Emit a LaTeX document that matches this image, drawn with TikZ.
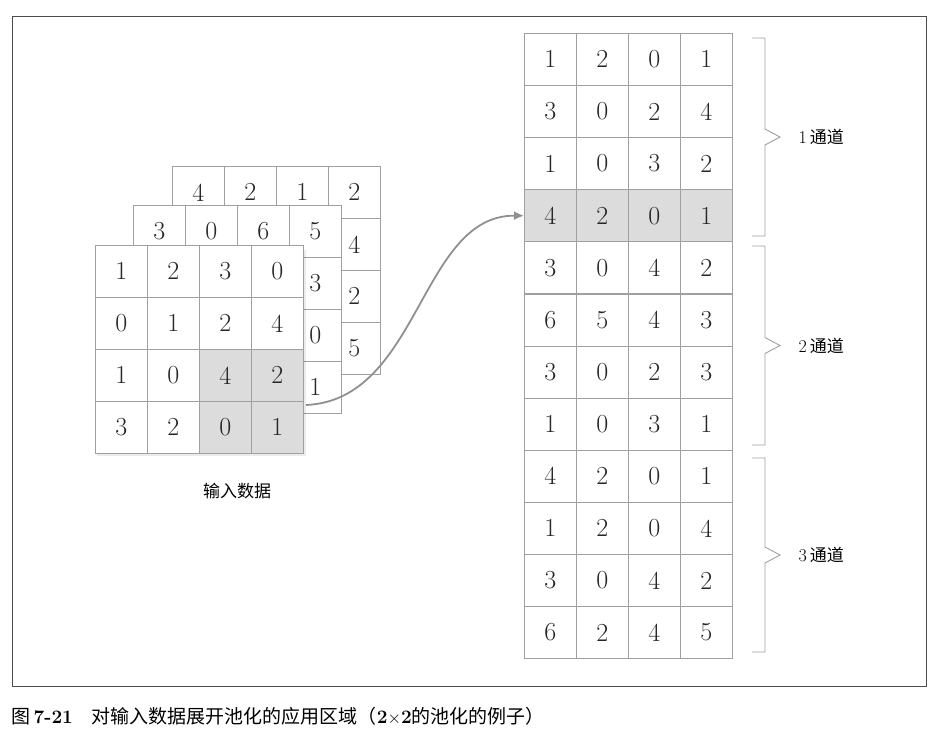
\documentclass[tikz,border=0pt]{standalone}
\usepackage{fontspec}
\newfontfamily\cjk{Noto Sans CJK SC}
\usetikzlibrary{calc,arrows.meta}
\definecolor{gridc}{HTML}{A0A0A0}
\definecolor{shade}{HTML}{DCDCDC}
\begin{document}
\begin{tikzpicture}[x=1pt,y=-1pt,
  cell/.style={draw=gridc,line width=0.8pt,fill=white,minimum width=52pt,minimum height=52pt,inner sep=0pt,font=\fontsize{26}{26}\selectfont,text=black!85,anchor=north west},
  hl/.style={fill=shade},
  lab/.style={font=\cjk\fontsize{17}{17}\selectfont},
  brk/.style={draw=gridc,line width=0.9pt}]
\useasboundingbox (0,0) rectangle (945,736);
\draw[line width=0.9pt,draw=black!70] (12,16) rectangle (926,686);
\def\drawmat#1#2#3#4{%
  \foreach \row [count=\r from 0] in {#4}{
    \foreach \v [count=\c from 0] in \row {
      \node[cell] (#1-\r-\c) at ($(#2,#3)+(\c*52,\r*52)$) {\v};
    }}}
\drawmat{b}{172}{166}{{4,2,1,2},{0,0,0,4},{0,0,0,2},{0,0,0,5}}
\drawmat{m}{133}{205}{{3,0,6,5},{0,0,0,3},{0,0,0,0},{0,0,0,1}}
\fill[black,opacity=0.08] (97,250) rectangle (306,456);
\drawmat{f}{95}{245}{{1,2,3,0},{0,1,2,4},{1,0,4,2},{3,2,0,1}}
\foreach \r/\c/\v in {2/2/4,2/3/2,3/2/0,3/3/1}
  \node[cell,hl] at (f-\r-\c.north west) {\v};
\node[lab] (in) at (237,491) {输入数据};
\foreach \row [count=\r from 0] in {{1,2,0,1},{3,0,2,4},{1,0,3,2},{4,2,0,1},{3,0,4,2},{6,5,4,3},{3,0,2,3},{1,0,3,1},{4,2,0,1},{1,2,0,4},{3,0,4,2},{6,2,4,5}}{
  \foreach \v [count=\c from 0] in \row {
    \ifnum\r=3
      \node[cell,hl] (r-\r-\c) at ($(524,33)+(\c*52,\r*52.1)$) {\v};
    \else
      \node[cell] (r-\r-\c) at ($(524,33)+(\c*52,\r*52.1)$) {\v};
    \fi
  }}
\coordinate (as) at (306,405);
\draw[gridc!90!black,line width=1.8pt,-{Latex[length=10pt,width=9pt]}]
  (as) .. controls (420,400) and (420,215) .. (r-3-0.west);
\foreach \a/\b/\t/\n in {38/236/1/c1,246/445/2/c2,458/652/3/c3}{
  \draw[brk] (752,\a) -- (765,\a) -- (765,{(\a+\b)/2-8}) -- (780,{(\a+\b)/2}) -- (765,{(\a+\b)/2+8}) -- (765,\b) -- (752,\b);
  \node[anchor=west] (\n) at (795,{(\a+\b)/2}) {\fontsize{18}{18}\selectfont\t\,\cjk\fontsize{17}{17}\selectfont 通道};
}
\node[anchor=west,font=\cjk\fontsize{19}{19}\selectfont] (cap) at (8,716) {图\,{\rmfamily\bfseries 7-21}\quad 对输入数据展开池化的应用区域（{\rmfamily\bfseries 2}$\times${\rmfamily\bfseries 2}的池化的例子）};
\end{tikzpicture}
\end{document}
